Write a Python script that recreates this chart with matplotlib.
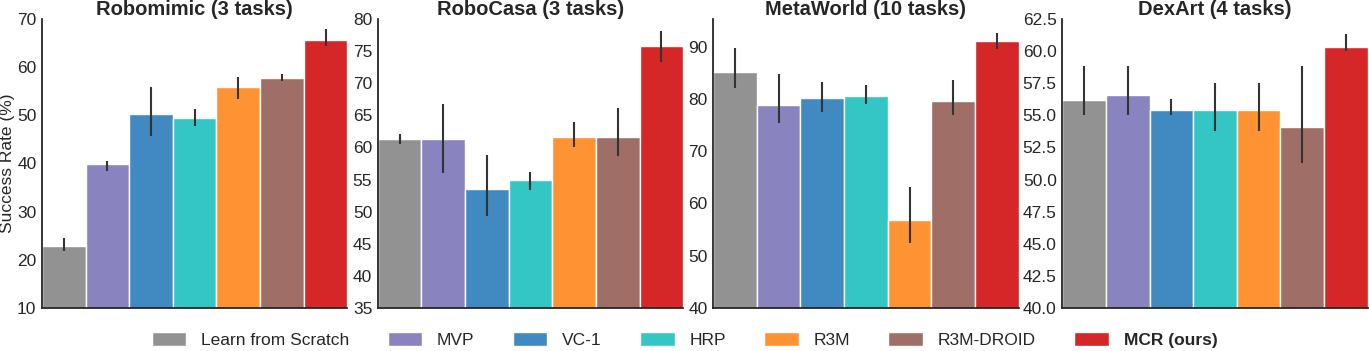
import matplotlib.pyplot as plt
import numpy as np

plt.rcParams['font.family'] = ['Liberation Sans', 'DejaVu Sans']

methods = ['Learn from Scratch', 'MVP', 'VC-1', 'HRP', 'R3M', 'R3M-DROID', 'MCR (ours)']
colors = ['#929292', '#8983BF', '#4189C1', '#33C6C4', '#FF9333', '#9E6E67', '#D62728']

titles = ['Robomimic (3 tasks)', 'RoboCasa (3 tasks)', 'MetaWorld (10 tasks)', 'DexArt (4 tasks)']

# mean success rate per benchmark
robomimic = [22.9, 39.9, 50.3, 49.5, 55.9, 57.8, 65.7]
robocasa = [61.3, 61.3, 53.5, 54.9, 61.6, 61.7, 75.8]
metaworld = [85.1, 78.8, 80.2, 80.5, 56.8, 79.6, 91.1]
dexart = [56.2, 56.6, 55.4, 55.4, 55.4, 54.1, 60.35]

# error bar ends (low, high)
robomimic_lo = [21.9, 38.5, 45.7, 47.8, 53.3, 57.2, 64.4]
robomimic_hi = [24.6, 40.6, 55.8, 51.3, 58.0, 58.6, 67.9]
robocasa_lo = [60.6, 56.0, 49.3, 53.3, 60.1, 58.7, 73.3]
robocasa_hi = [62.1, 66.7, 58.8, 56.1, 64.0, 66.1, 78.1]
metaworld_lo = [82.1, 75.4, 77.5, 79.1, 52.5, 77.0, 89.6]
metaworld_hi = [89.7, 84.8, 83.2, 82.7, 63.1, 83.6, 92.7]
dexart_lo = [55.0, 55.0, 55.0, 53.8, 53.8, 51.3, 60.0]
dexart_hi = [58.8, 58.8, 56.3, 57.5, 57.5, 58.8, 61.3]

means = [robomimic, robocasa, metaworld, dexart]
lows = [robomimic_lo, robocasa_lo, metaworld_lo, dexart_lo]
highs = [robomimic_hi, robocasa_hi, metaworld_hi, dexart_hi]
ylims = [(10, 70), (35, 80), (40, 95.3), (40, 62.5)]
yticks = [np.arange(10, 71, 10), np.arange(35, 81, 5), np.arange(40, 91, 10), np.arange(40, 62.6, 2.5)]

fig = plt.figure(figsize=(13.69, 3.51), dpi=100)
lefts = [0.0307, 0.276, 0.521, 0.776]
width = 0.223

x = np.arange(len(methods))
for i in range(4):
    ax = fig.add_axes([lefts[i], 0.1225, width, 0.8235])
    m = np.array(means[i])
    yerr = [m - np.array(lows[i]), np.array(highs[i]) - m]
    bars = ax.bar(x, m, width=1.0, color=colors, edgecolor='white', linewidth=1.0,
                  yerr=yerr, error_kw=dict(ecolor='#333333', elinewidth=1.5, capsize=0))
    ax.set_xlim(-0.5, 6.5)
    ax.set_ylim(*ylims[i])
    ax.set_yticks(yticks[i])
    if i == 3:
        ax.set_yticklabels(['%.1f' % t for t in yticks[i]])
    ax.set_xticks([])
    ax.set_title(titles[i], fontsize=14.5, fontweight='bold', color='#262626', pad=3)
    ax.tick_params(axis='y', length=0, labelsize=12.5, labelcolor='#262626', pad=4)
    for s in ['top', 'right']:
        ax.spines[s].set_visible(False)
    for s in ['left', 'bottom']:
        ax.spines[s].set_color('#262626')
        ax.spines[s].set_linewidth(1.3)
    if i == 0:
        ax.set_ylabel('Success Rate (%)', fontsize=12.5, color='#262626')
        ax.yaxis.set_label_coords(-0.09, 0.5)
        handles = bars.patches

leg = fig.legend(handles, methods, loc='center', bbox_to_anchor=(0.5, 0.031), ncol=7,
                 frameon=False, fontsize=12.5, handlelength=2.0, handleheight=0.8,
                 columnspacing=2.2, handletextpad=0.85, borderpad=0, borderaxespad=0)
for t in leg.get_texts():
    t.set_color('#262626')
    if t.get_text() == 'MCR (ours)':
        t.set_fontweight('bold')

plt.savefig('out.png', dpi=100)
